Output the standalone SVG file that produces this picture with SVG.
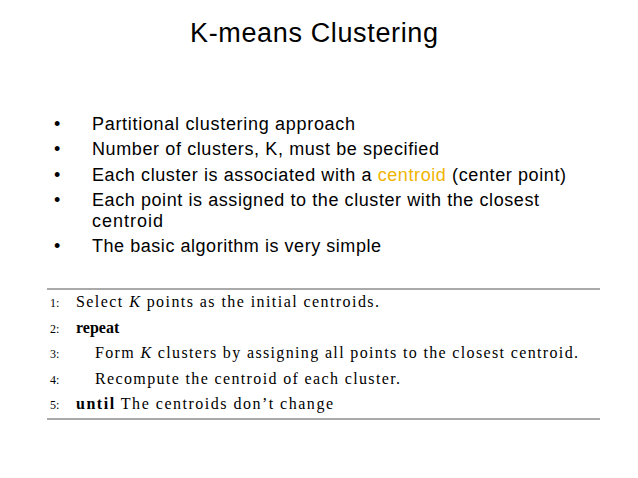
<svg xmlns="http://www.w3.org/2000/svg" width="638" height="478" viewBox="0 0 638 478">
<style>
.t{font-family:"Liberation Sans",Arial,sans-serif;fill:#000}
.b{font-family:"Liberation Sans",Arial,sans-serif;font-size:18px;fill:#000}
.s{font-family:"Liberation Serif","Times New Roman",serif;font-size:16px;fill:#000}
.n{font-family:"Liberation Serif","Times New Roman",serif;font-size:12px;fill:#000}
.r{stroke:#555;stroke-width:1}
</style>
<rect width="638" height="478" fill="#fff"/>
<text class="t" x="314" y="42" font-size="27" text-anchor="middle" textLength="248">K-means Clustering</text>
<g class="b">
<text x="54" y="130">•</text><text x="92" y="130" textLength="263">Partitional clustering approach</text>
<text x="54" y="155">•</text><text x="92" y="155" textLength="347">Number of clusters, K, must be specified</text>
<text x="54" y="181">•</text><text x="92" y="181" textLength="474">Each cluster is associated with a <tspan fill="#F0B400">centroid</tspan> (center point)</text>
<text x="54" y="206">•</text><text x="92" y="206" textLength="447">Each point is assigned to the cluster with the closest</text>
<text x="92" y="227" textLength="71">centroid</text>
<text x="54" y="252">•</text><text x="92" y="252" textLength="289">The basic algorithm is very simple</text>
</g>
<line class="r" x1="47" y1="289" x2="600" y2="289"/>
<line class="r" x1="47" y1="419" x2="600" y2="419"/>
<text class="n" x="50" y="307">1:</text><text class="s" x="76" y="307" textLength="303">Select <tspan font-style="italic">K</tspan> points as the initial centroids.</text>
<text class="n" x="50" y="333">2:</text><text class="s" x="76" y="333" font-weight="bold">repeat</text>
<text class="n" x="50" y="358">3:</text><text class="s" x="95" y="358" textLength="483">Form <tspan font-style="italic">K</tspan> clusters by assigning all points to the closest centroid.</text>
<text class="n" x="50" y="384">4:</text><text class="s" x="95" y="384" textLength="305">Recompute the centroid of each cluster.</text>
<text class="n" x="50" y="409">5:</text><text class="s" x="76" y="409" textLength="257"><tspan font-weight="bold">until</tspan> The centroids don’t change</text>
</svg>
